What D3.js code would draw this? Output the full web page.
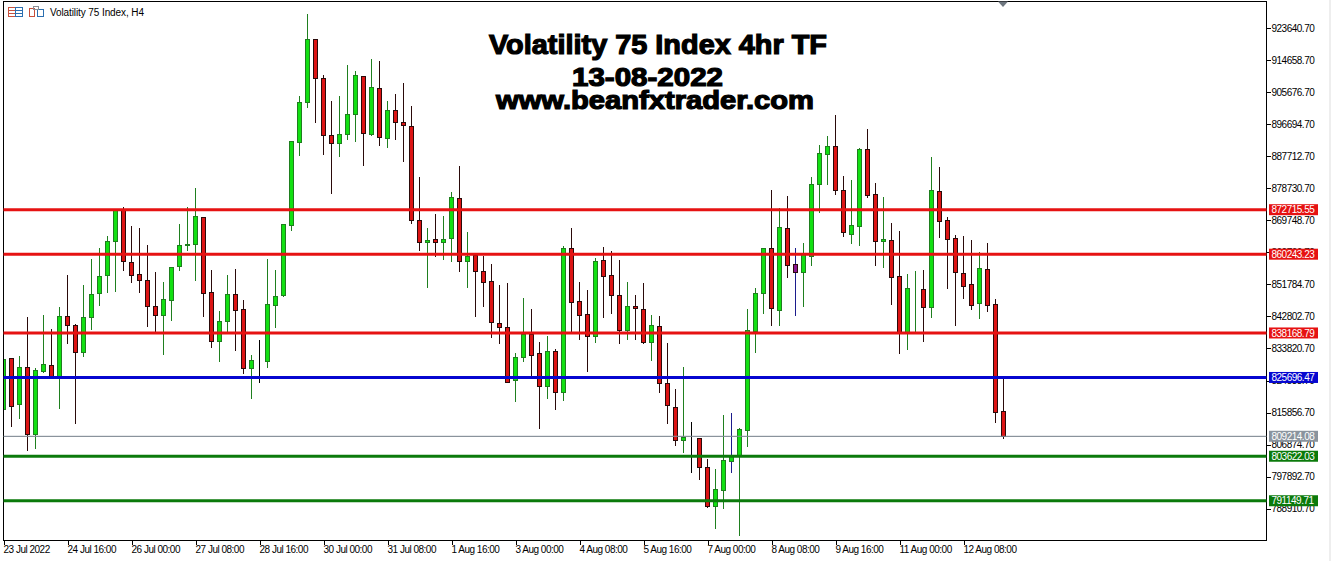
<!DOCTYPE html>
<html>
<head>
<meta charset="utf-8">
<title>Volatility 75 Index, H4</title>
<script src="https://cdn.jsdelivr.net/npm/d3@7"></script>
<style>
  html, body { margin: 0; padding: 0; background: #fff; overflow: hidden; }
  text { font-family: "Liberation Sans", Arial, sans-serif; }
  .axisText text { font-size: 10px; letter-spacing: -0.5px; fill: #000; }
  .axisText path, .axisText line { stroke: #000; shape-rendering: crispEdges; }
</style>
</head>
<body>
<div id="chart"></div>
<script>
// candles, oldest first
var opens = [816700,831000,818000,828500,809600,827500,829000,825300,842900,840200,832600,842400,849100,854200,863700,872800,857900,854500,852900,845600,843200,847400,856700,862600,862900,870500,849400,835700,841300,848900,844700,828100,830400,830300,846000,848600,868200,891500,902700,920500,909500,893500,891200,893700,899300,910100,893700,906700,892600,900600,897200,896100,869700,863500,864400,863500,864600,875900,858100,860000,855400,852600,840800,839600,824800,831200,837600,832400,823300,833000,821400,861800,847000,843300,837100,858500,854300,848700,839000,845600,844700,835400,840000,824000,817400,808100,808700,808500,800400,789600,794100,802200,803800,810900,838700,849100,861800,844600,867400,857300,855200,859500,879900,888100,890400,878100,865900,867900,889600,876900,863700,864000,854000,838200,850600,850300,845400,877800,869700,864600,854800,851700,846300,855900,846100,816100];
var highs = [830700,831300,831900,842900,828500,843400,839400,845700,854600,840800,851800,859000,862100,865500,873100,873700,868400,867800,863000,855500,852700,856900,868900,873700,879000,870900,856000,844500,854600,856300,847600,832200,836400,859000,856000,868900,891900,904800,927800,920500,910600,903400,904800,913300,911600,910200,915100,914400,903400,905400,908500,902000,881900,867700,871700,871100,877900,885200,866600,860000,860000,857600,851800,852300,832800,848100,845100,835800,837500,833800,862700,867700,852700,850300,859300,862500,861300,858800,852700,849000,852300,843300,843000,835500,822500,828800,813300,808900,803100,800200,815200,815900,811700,845000,850900,862000,878400,873300,876800,862200,863600,882100,891100,893600,899500,882400,881200,890200,895500,880400,876400,869200,867000,854900,855700,856000,887700,884900,870900,865800,865600,864400,861100,863600,847800,825300];
var lows = [816700,812000,814200,805100,805800,827000,825300,816900,835200,812900,831700,839200,846000,849400,849700,855800,852200,849400,840100,838400,832000,841800,855800,861200,853000,842700,834200,830300,838400,833300,826700,819700,824400,828400,839600,848300,866800,887800,901300,897100,888100,877300,887600,892500,891800,885000,893400,890600,890100,892300,886200,868800,861200,850800,859500,858700,858100,855300,850800,842700,845700,836800,835300,824200,819100,830100,825800,811300,819900,816800,819300,838400,836400,827400,835600,842400,843700,835300,836400,836400,835100,830500,821400,812800,806600,804700,799000,797100,789300,783300,788900,799000,781400,806300,832700,843700,840400,840400,853800,843200,845600,857200,871800,879900,877100,865300,863300,862800,876000,857100,856400,846200,832300,833400,838200,835800,842600,865000,850700,840300,847700,844800,842300,844200,813100,808700];
var closes = [830700,817700,828500,809800,827600,829300,825800,842900,840400,832600,842500,848900,854000,863800,872600,858200,854400,852800,845500,843200,847500,856500,862700,863000,870800,849100,835900,841400,848900,844600,828100,830400,830400,846100,848400,868600,891900,902800,920500,909500,893400,891200,893800,899400,910400,894000,907000,893000,900600,897100,896300,869600,863500,864100,863500,864400,876100,858100,859600,855400,852200,841000,839600,824400,831300,837600,831800,823300,833000,821600,861800,846600,843000,837200,858200,853900,848600,839000,845600,844900,835400,840200,823900,817800,808100,809000,808700,800500,789600,794200,802300,803900,811000,839000,849200,861800,844900,867700,857200,855000,860100,879700,888400,890400,878200,866200,868200,889600,876600,863900,864300,853800,838400,850600,850700,845200,878100,869300,864500,855000,851300,846000,856200,846000,816000,809100];

// candles the platform tinted, they carry a blue wick
var blueWicks = [91, 99];

// price axis
var priceTicks = [923640.70,914658.70,905676.70,896694.70,887712.70,878730.70,869748.70,860766.70,851784.70,842802.70,833820.70,824838.70,815856.70,806874.70,797892.70,788910.70];

// time axis, one label every 8 candles
var timeLabels = ['23 Jul 2022','24 Jul 16:00','26 Jul 00:00','27 Jul 08:00','28 Jul 16:00','30 Jul 00:00','31 Jul 08:00','1 Aug 16:00','3 Aug 00:00','4 Aug 08:00','5 Aug 16:00','7 Aug 00:00','8 Aug 08:00','9 Aug 16:00','11 Aug 00:00','12 Aug 08:00'];

// horizontal levels
var redLevels = [872715.55, 860243.23, 838168.79];
var blueLevels = [825696.47];
var greenLevels = [803622.03, 791149.71];
var bidPrice = 809214.08;

var svgWidth = 1331;
var svgHeight = 561;

var frame = { top: 1.5, bottom: 540.5, left: 3.5, right: 1266.5 };

var upFill = '#12e012', upEdge = '#1f7f1f';
var downFill = '#dc1414', downEdge = '#2a0a0a';

var svg = d3.select('#chart')
    .append('svg')
    .attr('width', svgWidth)
    .attr('height', svgHeight)
    .style('display', 'block');

var xScale = d3.scaleLinear()
    .domain([0, opens.length - 1])
    .range([3.5, 1003.5]);

var yScale = d3.scaleLinear()
    .domain([780010, 931060])
    .range([frame.bottom, frame.top]);

function py(v) {
    return Math.round(yScale(v) - 0.5) + 0.5;
}

svg.append('rect')
    .attr('x', 1329)
    .attr('width', 2)
    .attr('height', svgHeight)
    .attr('fill', '#eeeeee');

svg.append('defs').append('clipPath')
    .attr('id', 'plotClip')
    .append('rect')
    .attr('x', frame.left)
    .attr('y', frame.top)
    .attr('width', frame.right - frame.left)
    .attr('height', frame.bottom - frame.top);

// axes

var rightAxis = d3.axisRight(yScale)
    .tickValues(priceTicks)
    .tickSize(4)
    .tickPadding(1)
    .tickFormat(d => d.toFixed(2));

svg.append('g')
    .attr('class', 'axisText')
    .attr('transform', `translate(${frame.right}, 0)`)
    .call(rightAxis)
    .call(g => g.select('.domain').remove());

var bottomAxis = d3.axisBottom(xScale)
    .tickValues(timeLabels.map((d, i) => i * 8))
    .tickSize(4)
    .tickPadding(1)
    .tickFormat((d, i) => timeLabels[i]);

svg.append('g')
    .attr('class', 'axisText')
    .attr('transform', `translate(0, ${frame.bottom})`)
    .call(bottomAxis)
    .call(g => g.select('.domain').remove())
    .selectAll('text')
    .attr('text-anchor', 'start')
    .attr('x', -0.5);

// bid line sits behind the candles

var plot = svg.append('g').attr('clip-path', 'url(#plotClip)');

plot.append('line')
    .attr('x1', frame.left)
    .attr('x2', frame.right)
    .attr('y1', py(bidPrice))
    .attr('y2', py(bidPrice))
    .attr('stroke', '#8a8f96')
    .attr('stroke-width', 1);

// candles

var candles = plot.selectAll('.candle')
    .data(opens.map((d, i) => i))
    .enter()
    .append('g')
    .attr('class', 'candle')
    .attr('shape-rendering', 'crispEdges');

function edgeColor(i) {
    if (closes[i] === opens[i]) return '#000000';
    return closes[i] > opens[i] ? upEdge : downEdge;
}

candles.append('line')
    .attr('x1', i => xScale(i))
    .attr('x2', i => xScale(i))
    .attr('y1', i => py(highs[i]))
    .attr('y2', i => py(lows[i]))
    .attr('stroke', i => blueWicks.includes(i) ? '#1c1c8c' : edgeColor(i))
    .attr('stroke-width', 1);

candles.append('rect')
    .attr('x', i => xScale(i) - 2)
    .attr('width', 4)
    .attr('y', i => py(Math.max(opens[i], closes[i])))
    .attr('height', i => py(Math.min(opens[i], closes[i])) - py(Math.max(opens[i], closes[i])))
    .attr('fill', i => i === 99 ? '#8a1590' : (closes[i] > opens[i] ? upFill : downFill))
    .attr('stroke', edgeColor)
    .attr('stroke-width', 1);

// frame

svg.append('rect')
    .attr('x', frame.left)
    .attr('y', frame.top)
    .attr('width', frame.right - frame.left)
    .attr('height', frame.bottom - frame.top)
    .attr('fill', 'none')
    .attr('stroke', '#000')
    .attr('shape-rendering', 'crispEdges');

// levels with their price tags

function drawLevels(values, color, thick) {
    svg.selectAll(null)
        .data(values)
        .enter()
        .append('line')
        .attr('x1', frame.left)
        .attr('x2', frame.right)
        .attr('y1', d => yScale(d))
        .attr('y2', d => yScale(d))
        .attr('stroke', color)
        .attr('stroke-width', thick);

    svg.selectAll(null)
        .data(values)
        .enter()
        .append('rect')
        .attr('x', 1269)
        .attr('y', d => yScale(d) - 5.5)
        .attr('width', 49)
        .attr('height', 11)
        .attr('fill', color);

    svg.selectAll(null)
        .data(values)
        .enter()
        .append('text')
        .attr('x', 1271.5)
        .attr('y', d => yScale(d))
        .attr('dy', '0.36em')
        .style('font-size', '10px')
        .style('letter-spacing', '-0.5px')
        .style('fill', '#fff')
        .text(d => d.toFixed(2));
}

drawLevels(redLevels, '#e61212', 3);
drawLevels(blueLevels, '#0606d0', 3);
drawLevels(greenLevels, '#0b7a0b', 3);
drawLevels([bidPrice], '#8a949e', 1);

// little marker on top of the frame

svg.append('path')
    .attr('d', 'M998 1.5 L1008 1.5 L1003 7 Z')
    .attr('fill', '#6f7780');

// toolbar icons and chart name

var icons = svg.append('g').attr('fill', 'none').attr('shape-rendering', 'crispEdges');
icons.append('rect').attr('x', 8.5).attr('y', 7.5).attr('width', 7).attr('height', 9).attr('stroke', '#c8503c');
icons.append('rect').attr('x', 15.5).attr('y', 7.5).attr('width', 7).attr('height', 9).attr('stroke', '#2c6fb0');
icons.append('path').attr('d', 'M9 10.5H15M9 13.5H15').attr('stroke', '#c8503c');
icons.append('path').attr('d', 'M16 10.5H22M16 13.5H22').attr('stroke', '#2c6fb0');
icons.append('rect').attr('x', 29.5).attr('y', 8.5).attr('width', 5).attr('height', 8).attr('stroke', '#c8503c');
icons.append('rect').attr('x', 37.5).attr('y', 9.5).attr('width', 6).attr('height', 7).attr('stroke', '#2c6fb0');
icons.append('rect').attr('x', 33.5).attr('y', 6.5).attr('width', 5).attr('height', 3).attr('stroke', '#8a8f96');

svg.append('text')
    .attr('x', 50)
    .attr('y', 16)
    .style('font-size', '10px')
    .style('letter-spacing', '-0.1px')
    .style('fill', '#000')
    .text('Volatility 75 Index, H4');

// heading typed on the chart

var headings = [
    { label: 'Volatility 75 Index 4hr TF', x: 489, y: 54, size: 27, len: 338 },
    { label: '13-08-2022', x: 572, y: 85.5, size: 26, len: 151 },
    { label: 'www.beanfxtrader.com', x: 496, y: 108.5, size: 25, len: 318 }
];

svg.selectAll('.heading')
    .data(headings)
    .enter()
    .append('text')
    .attr('class', 'heading')
    .attr('x', d => d.x)
    .attr('y', d => d.y)
    .attr('textLength', d => d.len)
    .attr('lengthAdjust', 'spacingAndGlyphs')
    .style('font-size', d => d.size + 'px')
    .style('font-weight', 'bold')
    .style('fill', '#000')
    .style('stroke', '#000')
    .style('stroke-width', '1.2px')
    .text(d => d.label);
</script>
</body>
</html>
